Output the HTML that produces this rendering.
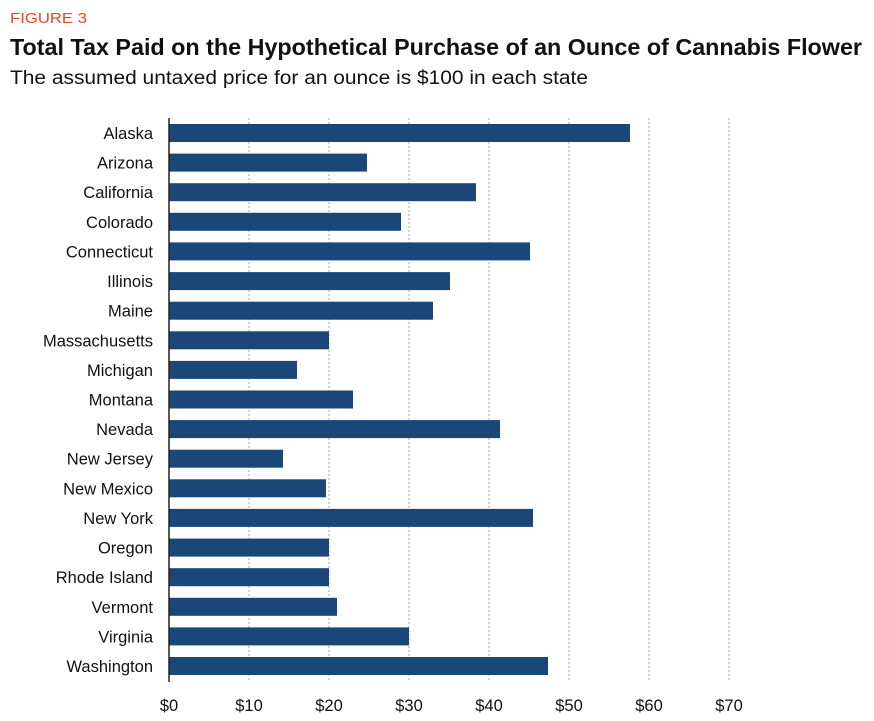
<!DOCTYPE html>
<html><head><meta charset="utf-8"><style>
html,body{margin:0;padding:0;background:#fff;}
svg{display:block;font-family:"Liberation Sans",sans-serif;}
</style></head><body>
<svg width="874" height="721" viewBox="0 0 874 721" xmlns="http://www.w3.org/2000/svg">
<text x="10" y="23" font-size="15" fill="#e8462a" textLength="77" lengthAdjust="spacingAndGlyphs">FIGURE 3</text>
<text x="10" y="55" font-size="23" font-weight="bold" fill="#111" textLength="852" lengthAdjust="spacingAndGlyphs">Total Tax Paid on the Hypothetical Purchase of an Ounce of Cannabis Flower</text>
<text x="10" y="84" font-size="19" fill="#111" textLength="578" lengthAdjust="spacingAndGlyphs">The assumed untaxed price for an ounce is $100 in each state</text>
<g stroke="#aaa" stroke-width="1" stroke-dasharray="2,2">
<line x1="249" y1="118" x2="249" y2="682"/><line x1="329" y1="118" x2="329" y2="682"/>
<line x1="409" y1="118" x2="409" y2="682"/><line x1="489" y1="118" x2="489" y2="682"/>
<line x1="569" y1="118" x2="569" y2="682"/><line x1="649" y1="118" x2="649" y2="682"/>
<line x1="729" y1="118" x2="729" y2="682"/>
</g>
<g fill="#1b4778">
<rect x="169" y="124" width="461" height="18"/>
<rect x="169" y="153.6" width="198" height="18"/>
<rect x="169" y="183.2" width="307" height="18"/>
<rect x="169" y="212.8" width="232" height="18"/>
<rect x="169" y="242.4" width="361" height="18"/>
<rect x="169" y="272.1" width="281" height="18"/>
<rect x="169" y="301.7" width="264" height="18"/>
<rect x="169" y="331.3" width="160" height="18"/>
<rect x="169" y="360.9" width="128" height="18"/>
<rect x="169" y="390.5" width="184" height="18"/>
<rect x="169" y="420.1" width="331" height="18"/>
<rect x="169" y="449.7" width="114" height="18"/>
<rect x="169" y="479.3" width="157" height="18"/>
<rect x="169" y="508.9" width="364" height="18"/>
<rect x="169" y="538.6" width="160" height="18"/>
<rect x="169" y="568.2" width="160" height="18"/>
<rect x="169" y="597.8" width="168" height="18"/>
<rect x="169" y="627.4" width="240" height="18"/>
<rect x="169" y="657" width="379" height="18"/>
</g>
<line x1="169" y1="118" x2="169" y2="682" stroke="#222" stroke-width="1.5"/>
<g font-size="16.5" fill="#111" text-anchor="end">
<text x="153" y="139">Alaska</text>
<text x="153" y="168.6">Arizona</text>
<text x="153" y="198.2">California</text>
<text x="153" y="227.8">Colorado</text>
<text x="153" y="257.4">Connecticut</text>
<text x="153" y="287.1">Illinois</text>
<text x="153" y="316.7">Maine</text>
<text x="153" y="346.3">Massachusetts</text>
<text x="153" y="375.9">Michigan</text>
<text x="153" y="405.5">Montana</text>
<text x="153" y="435.1">Nevada</text>
<text x="153" y="464.7">New Jersey</text>
<text x="153" y="494.3">New Mexico</text>
<text x="153" y="523.9">New York</text>
<text x="153" y="553.6">Oregon</text>
<text x="153" y="583.2">Rhode Island</text>
<text x="153" y="612.8">Vermont</text>
<text x="153" y="642.4">Virginia</text>
<text x="153" y="672">Washington</text>
</g>
<g font-size="16.5" fill="#111" text-anchor="middle">
<text x="169" y="711">$0</text><text x="249" y="711">$10</text><text x="329" y="711">$20</text>
<text x="409" y="711">$30</text><text x="489" y="711">$40</text><text x="569" y="711">$50</text>
<text x="649" y="711">$60</text><text x="729" y="711">$70</text>
</g>
</svg>
</body></html>
